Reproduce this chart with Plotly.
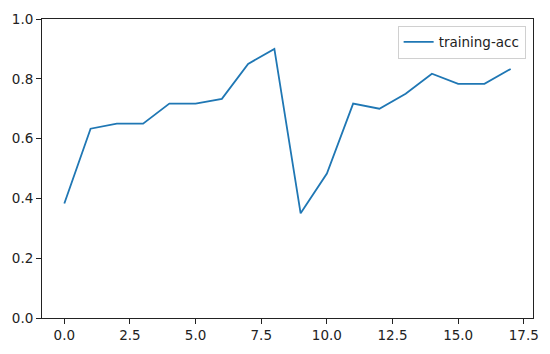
import plotly.graph_objects as go

# training accuracy per epoch
epochs = list(range(18))
training_acc = [0.383, 0.633, 0.65, 0.65, 0.717, 0.717, 0.733, 0.85, 0.9,
                0.35, 0.483, 0.717, 0.7, 0.75, 0.817, 0.783, 0.783, 0.833]

x_ticks = [0, 2.5, 5, 7.5, 10, 12.5, 15, 17.5]
y_ticks = [0, 0.2, 0.4, 0.6, 0.8, 1.0]

fig = go.Figure()

fig.add_trace(go.Scatter(x=epochs, y=training_acc, mode='lines',
                         name='training-acc',
                         line=dict(color='#1f77b4', width=1.8)))

axis_style = dict(showline=True, linecolor='#222', linewidth=1, mirror=True,
                  ticks='outside', ticklen=5, tickcolor='#222', showgrid=False,
                  zeroline=False, tickformat='.1f',
                  tickfont=dict(family='DejaVu Sans', size=13.5, color='#222'))

fig.update_layout(
    width=550, height=354,
    margin=dict(l=42, r=11, t=14, b=32),
    paper_bgcolor='white', plot_bgcolor='white',
    showlegend=True,
    legend=dict(x=0.985, y=0.978, xanchor='right', yanchor='top',
                bordercolor='#d0d0d0', borderwidth=1, bgcolor='white',
                font=dict(family='DejaVu Sans', size=13.5, color='#222')),
    xaxis=dict(range=[-0.85, 17.85], tickvals=x_ticks, **axis_style),
    yaxis=dict(range=[0, 1], tickvals=y_ticks, **axis_style),
)

# page body has a default margin; drop it so the figure fills the window
fig.write_html("out.html", config={'displayModeBar': False},
               post_script="document.body.style.margin='0';")
